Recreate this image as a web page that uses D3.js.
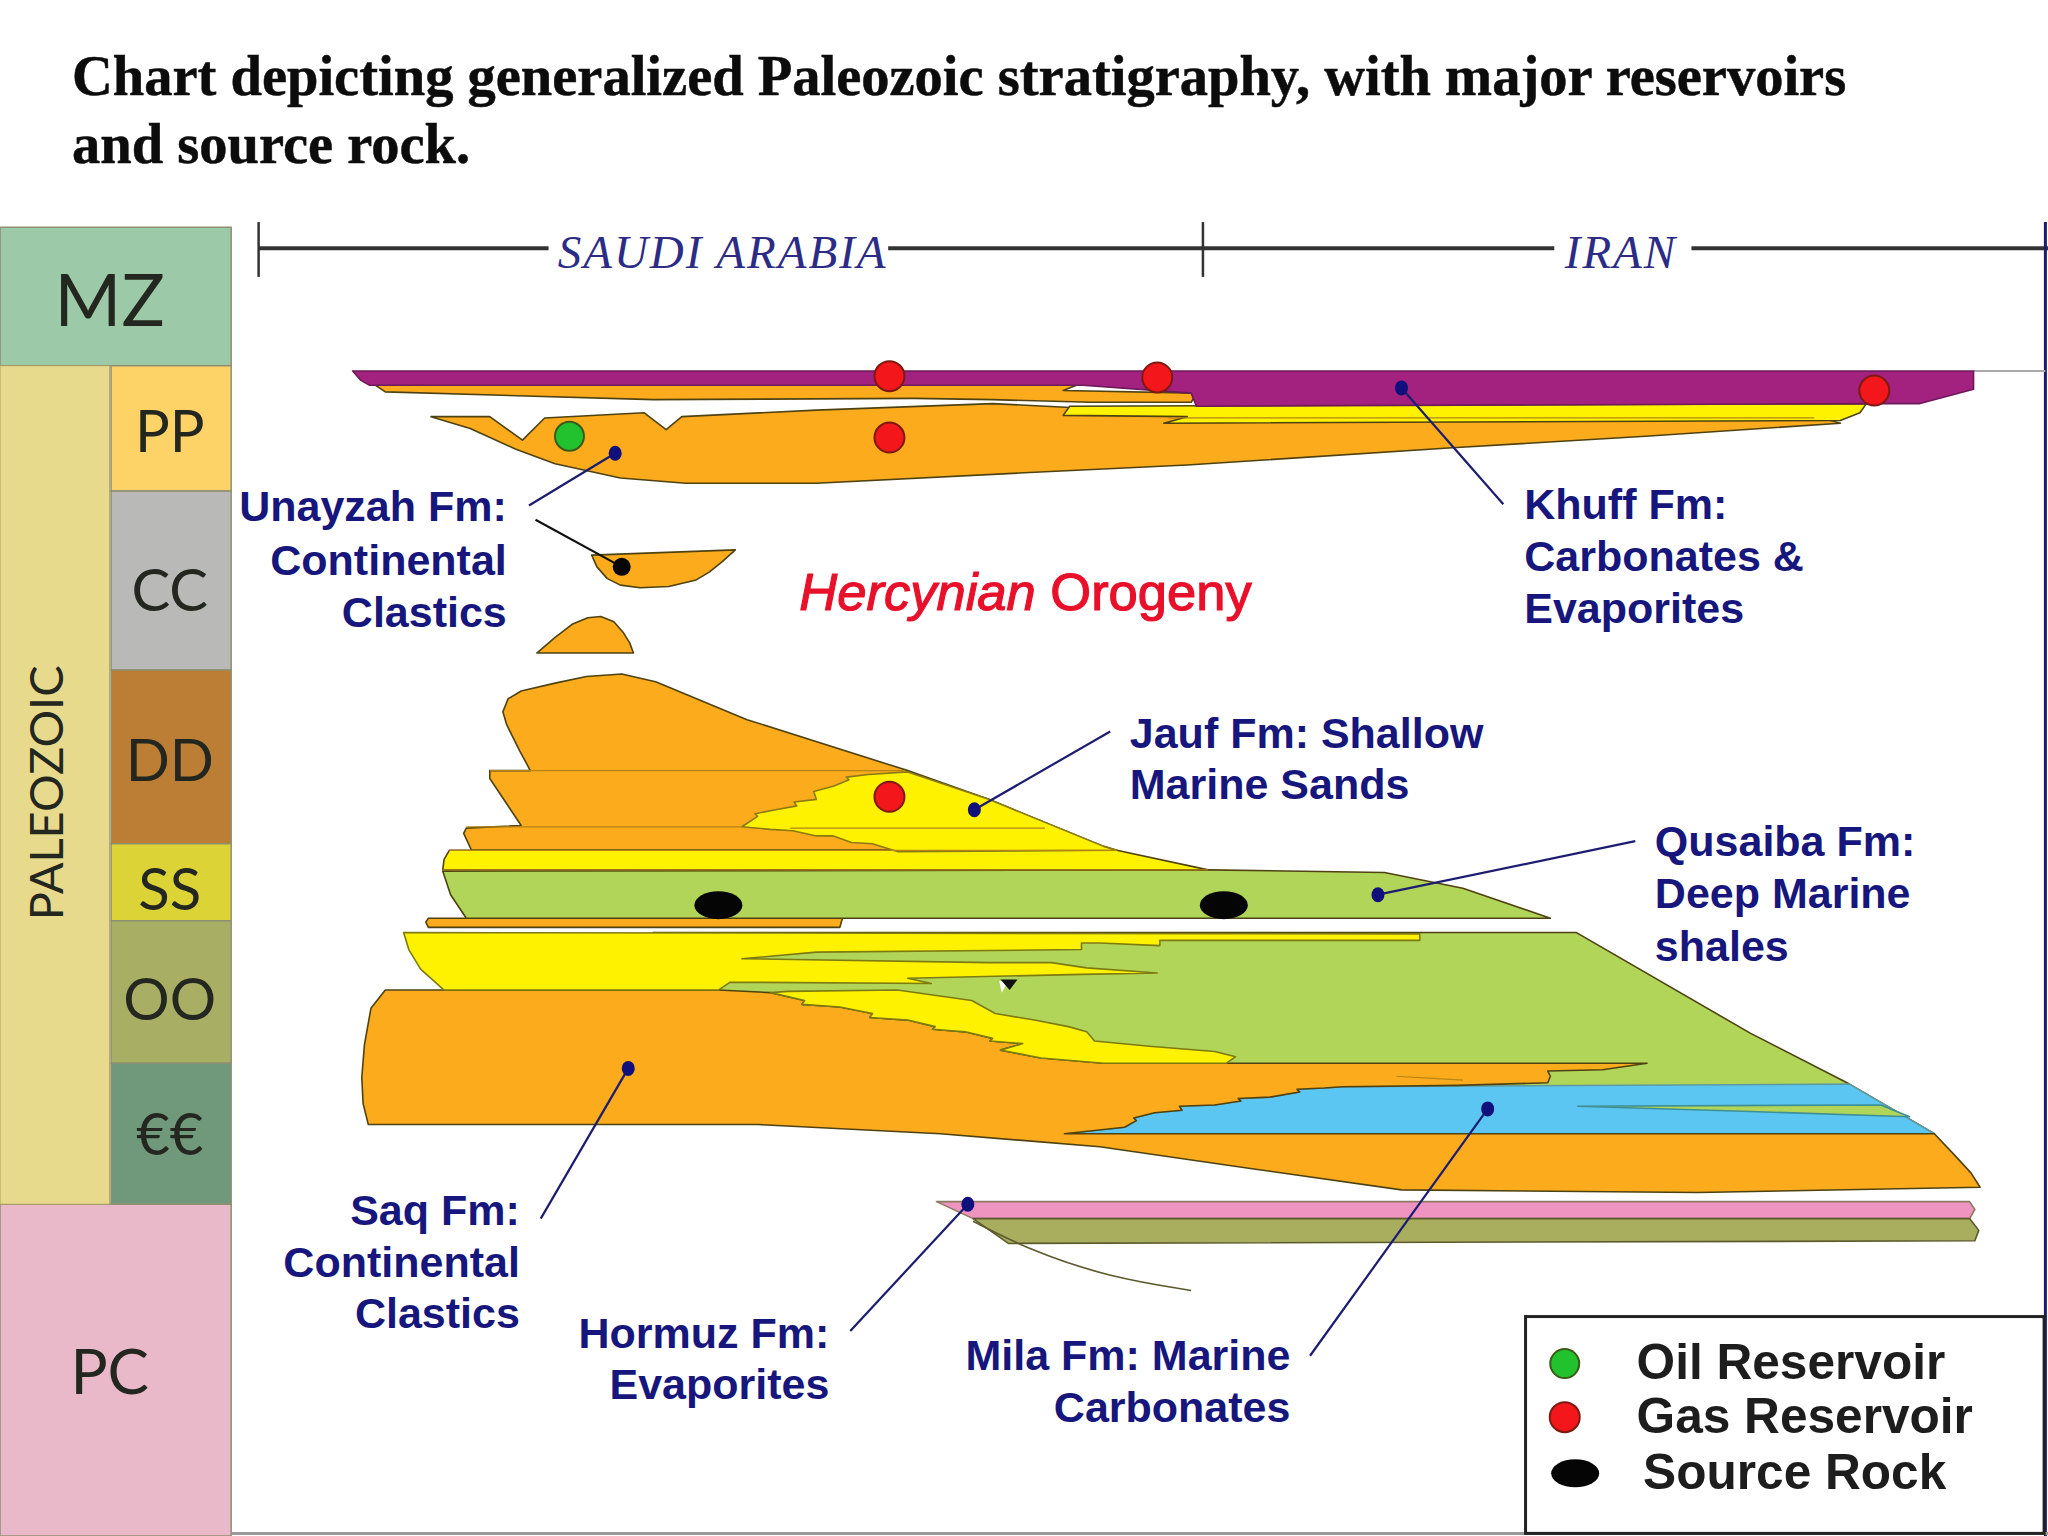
<!DOCTYPE html>
<html>
<head>
<meta charset="utf-8">
<script src="https://cdnjs.cloudflare.com/ajax/libs/d3/7.8.5/d3.min.js"></script>
<style>
  html, body { margin: 0; padding: 0; background: #fff; }
  svg { display: block; }
</style>
</head>
<body>
<div id="chart"></div>
<script>
// values, on a 1568 x 1176 sheet
const periods = ['MZ', 'PP', 'CC', 'DD', 'SS', 'OO', '€€', 'PC'];
const periodTops = [174, 280, 376, 513, 646, 705, 814, 922];
const periodBottoms = [280, 376, 513, 646, 705, 814, 922, 1176];
const periodLabelRows = [230, 330, 452, 582, 681, 765, 868, 1050];
const eraSpan = [280, 922];
const regions = ['SAUDI ARABIA', 'IRAN'];
const regionTicks = [198, 921, 1566];

// stepped contacts shared by two formations
const milaEdge = [[815, 868], [861, 863], [870, 858], [868, 856], [884, 852], [905, 850], [903, 847], [930, 846], [950, 843], [948, 841], [972, 840], [995, 836], [993, 834], [1014, 833], [1028, 832]];
const saqEdge = [[590, 760], [616, 766], [614, 769], [643, 771], [668, 776], [666, 779], [695, 781], [716, 786], [714, 788], [739, 790], [760, 795], [758, 797], [783, 799], [766, 804], [797, 810], [845, 814]];

// formations, oldest drawing order first
const ordovicianGreen = [[500, 714], [1207, 714], [1340, 791], [1416, 830], [1481, 868], [815, 868], [550, 758]];
const milaBlue = [...milaEdge, [1416, 830], [1481, 868]];
const milaGreenStreak = [[1208, 847], [1440, 846], [1462, 855], [1340, 851]];
const saqOrange = [[295, 758], [550, 758], ...saqEdge, [949, 814], [1261, 814], [1227, 819], [1185, 820], [1187, 824], [1185, 829], [1116, 831], ...milaEdge.slice().reverse(), [1481, 868], [1497, 885], [1509, 898], [1516, 909], [1300, 913], [1073, 911], [960, 895], [842, 878], [720, 868], [581, 861], [282, 861], [278, 845], [277, 825], [279, 800], [284, 772]];
const upperYellow = [[309, 714], [1087, 715], [1087, 720], [888, 720], [888, 724], [842, 722], [828, 722], [828, 727], [625, 729], [568, 734], [757, 737], [805, 737], [832, 741], [886, 745], [828, 746], [695, 749], [713, 753], [559, 752], [550, 758], [340, 758], [322, 742], [313, 727]];
const lowerYellow = [...saqEdge, [939, 814], [946, 809], [930, 805], [880, 801], [838, 797], [832, 790], [818, 786], [792, 781], [762, 776], [744, 766], [687, 758], [603, 759]];
const sandStrip = [[328, 703], [645, 703], [643, 710], [328, 710], [326, 706]];
const qusaibaGreen = [[339, 667], [925, 666], [1060, 668], [1120, 680], [1187, 703], [357, 703], [345, 685]];
const sarahYellow = [[344, 651], [855, 651], [925, 666], [339, 666], [340, 658]];
const jaufOrange = [[406, 590], [398, 575], [388, 555], [385, 545], [389, 535], [399, 529], [425, 523], [449, 518], [476, 516], [502, 522], [572, 551], [695, 590], [757, 612], [845, 648], [855, 651], [361, 651], [355, 638], [357, 634], [399, 632], [375, 596], [375, 590]];
const jaufYellow = [[695, 591], [757, 612], [845, 648], [855, 651], [687, 652], [668, 646], [652, 645], [638, 640], [625, 640], [607, 636], [590, 635], [568, 633], [580, 625], [578, 623], [594, 620], [610, 617], [608, 614], [625, 612], [623, 606], [638, 602], [650, 597], [648, 595], [665, 593]];
const moundOrange = [[411, 500], [425, 488], [438, 478], [450, 473], [460, 472], [470, 476], [477, 484], [482, 492], [485, 500]];
const bowlOrange = [[453, 425], [563, 421], [553, 430], [543, 438], [533, 444], [512, 449], [490, 450], [475, 448], [465, 443], [457, 434]];
const unayzahOrange = [[330, 319], [375, 319], [400, 337], [417, 320], [493, 316], [510, 329], [522, 319], [625, 314], [760, 309], [900, 316], [1395, 320], [1409, 324], [1260, 334], [1109, 343], [909, 356], [784, 362], [625, 370], [525, 370], [475, 366], [425, 355], [395, 344], [360, 328]];
const khuffYellow = [[819, 311], [1429, 309], [1424, 316], [1409, 322], [894, 324], [891, 324], [909, 319], [814, 318]];
const upperOrange = [[283, 292], [829, 293], [814, 299], [916, 301], [912, 308], [835, 308], [760, 306], [700, 305], [500, 306], [295, 300]];
const khuffPurple = [[270, 284], [1511, 284], [1511, 298], [1470, 309], [1430, 309], [916, 311], [912, 301], [829, 295], [283, 295], [276, 291]];
const hormuzPink = [[717, 920], [1508, 920], [1512, 926], [1508, 933], [745, 933]];
const hormuzOlive = [[745, 933], [1508, 933], [1515, 942], [1512, 950], [772, 952]];
const hormuzTail = [[745, 935], [790, 958], [850, 978], [912, 988]];

// faint bedding contacts inside the formations
const contacts = [
  [[375, 590], [692, 590]],
  [[357, 633], [568, 633]],
  [[344, 651], [855, 651]],
  [[339, 666], [925, 666]],
  [[605, 634], [800, 634]],
  [[894, 320], [1389, 320]],
  [[1069, 824], [1120, 827]]
];

const gasPoints = [[681, 288], [886, 289], [1435, 299], [681, 335], [681, 610]];
const oilPoints = [[436, 334]];
const sourcePoints = [[550, 693], [937, 693]];
const bowlSource = [476, 434];

const leaderDots = [[471, 347], [1073, 297], [746, 620], [1055, 685], [481, 818], [741, 922], [1139, 849]];
const leaderEnds = [[405, 387], [1151, 386], [850, 560], [1252, 644], [414, 933], [651, 1019], [1003, 1038]];

const titleLines = [
  'Chart depicting generalized Paleozoic stratigraphy, with major reservoirs',
  'and source rock.'
];
const unayzahLines = ['Unayzah Fm:', 'Continental', 'Clastics'];
const khuffLines = ['Khuff Fm:', 'Carbonates &', 'Evaporites'];
const jaufLines = ['Jauf Fm: Shallow', 'Marine Sands'];
const qusaibaLines = ['Qusaiba Fm:', 'Deep Marine', 'shales'];
const saqLines = ['Saq Fm:', 'Continental', 'Clastics'];
const hormuzLines = ['Hormuz Fm:', 'Evaporites'];
const milaLines = ['Mila Fm: Marine', 'Carbonates'];
const legendLabels = ['Oil Reservoir', 'Gas Reservoir', 'Source Rock'];

const width = 2048;
const height = 1536;
const x = d3.scaleLinear().domain([0, 1568]).range([0, width]);
const y = d3.scaleLinear().domain([0, 1176]).range([0, height]);

const periodColor = d3.scaleOrdinal()
  .domain(periods)
  .range(['#9ccaa8', '#fdd368', '#b9b9b7', '#bc7e35', '#dcd336', '#a9ae65', '#70997c', '#e9b9c9']);

const orange = '#fbab1c';
const yellow = '#fff200';
const green = '#b1d558';
const purple = '#a3217f';
const blue = '#5cc6f2';
const navy = '#16167c';
const edge = '#4e4212';

const svg = d3.select('#chart').append('svg')
  .attr('width', width)
  .attr('height', height)
  .style('background', '#fff');

// title
svg.append('g').selectAll('text')
  .data(titleLines)
  .enter().append('text')
  .attr('x', 72)
  .attr('y', (d, i) => 95 + i * 68)
  .attr('font-family', '"Liberation Serif", serif')
  .attr('font-weight', 'bold')
  .attr('font-size', 56.5)
  .attr('fill', '#0c0c0c')
  .attr('stroke', '#0c0c0c')
  .attr('stroke-width', 0.5)
  .text(d => d);

// stratigraphic column
const column = svg.append('g');
const fullWidth = ['MZ', 'PC'];
column.selectAll('rect.period')
  .data(periods)
  .enter().append('rect')
  .attr('class', 'period')
  .attr('x', d => x(fullWidth.includes(d) ? 0 : 85))
  .attr('y', (d, i) => y(periodTops[i]))
  .attr('width', d => x(177) - x(fullWidth.includes(d) ? 0 : 85))
  .attr('height', (d, i) => y(periodBottoms[i]) - y(periodTops[i]))
  .attr('fill', d => periodColor(d))
  .attr('stroke', '#8f8f72')
  .attr('stroke-width', 1.5);

column.append('rect')
  .attr('x', 0)
  .attr('y', y(eraSpan[0]))
  .attr('width', x(84))
  .attr('height', y(eraSpan[1]) - y(eraSpan[0]))
  .attr('fill', '#e8da8c')
  .attr('stroke', '#a89d63')
  .attr('stroke-width', 1);

column.selectAll('text.period')
  .data(periods)
  .enter().append('text')
  .attr('class', 'period')
  .attr('x', d => x(fullWidth.includes(d) ? 84 : 130))
  .attr('y', (d, i) => y(periodLabelRows[i]))
  .attr('dy', '0.36em')
  .attr('text-anchor', 'middle')
  .attr('font-family', 'Lato, sans-serif')
  .attr('font-size', d => (d === 'MZ' ? 72 : d === 'PC' ? 62 : 58))
  .attr('fill', '#23271f')
  .text(d => d);

column.append('text')
  .attr('transform', `translate(${x(35)},${y(607)}) rotate(-90)`)
  .attr('dy', '0.36em')
  .attr('text-anchor', 'middle')
  .attr('font-family', 'Lato, sans-serif')
  .attr('font-size', 47)
  .attr('fill', '#23271f')
  .text('PALEOZOIC');

// country header
const header = svg.append('g').attr('stroke', '#333').attr('stroke-width', 4);
const headerRuns = [[198, 420], [680, 1190], [1295, 1568]];
headerRuns.forEach(r => {
  header.append('line')
    .attr('x1', x(r[0])).attr('x2', x(r[1]))
    .attr('y1', y(190)).attr('y2', y(190));
});
regionTicks.slice(0, 2).forEach(t => {
  header.append('line')
    .attr('x1', x(t)).attr('x2', x(t))
    .attr('y1', y(170)).attr('y2', y(212))
    .attr('stroke-width', 2.5);
});
svg.selectAll('text.region')
  .data(regions)
  .enter().append('text')
  .attr('class', 'region')
  .attr('x', (d, i) => x([427, 1198][i]))
  .attr('y', y(205))
  .attr('font-family', '"Liberation Serif", serif')
  .attr('font-style', 'italic')
  .attr('font-size', 47)
  .attr('letter-spacing', 2)
  .attr('fill', '#2c2c86')
  .text(d => d);

// frame on the right and bottom, grey datum at the top of the Khuff
svg.append('line')
  .attr('x1', x(regionTicks[2])).attr('x2', x(regionTicks[2]))
  .attr('y1', y(170)).attr('y2', y(1176))
  .attr('stroke', '#1c1c6e').attr('stroke-width', 3);
svg.append('line')
  .attr('x1', x(177)).attr('x2', x(1568))
  .attr('y1', y(1174)).attr('y2', y(1174))
  .attr('stroke', '#999').attr('stroke-width', 3);
svg.append('line')
  .attr('x1', x(1511)).attr('x2', x(1566))
  .attr('y1', y(284)).attr('y2', y(284))
  .attr('stroke', '#aaa').attr('stroke-width', 2);

// formations
const outline = d3.line().x(d => x(d[0])).y(d => y(d[1])).curve(d3.curveLinearClosed);
const open = d3.line().x(d => x(d[0])).y(d => y(d[1])).curve(d3.curveBasis);

const formations = [
  [ordovicianGreen, green, edge],
  [milaBlue, blue, '#5f9aa0'],
  [milaGreenStreak, green, '#3f8f96'],
  [saqOrange, orange, edge],
  [upperYellow, yellow, '#7d7a12'],
  [lowerYellow, yellow, '#7d7a12'],
  [sandStrip, orange, edge],
  [qusaibaGreen, green, edge],
  [jaufOrange, orange, edge],
  [sarahYellow, yellow, edge],
  [jaufYellow, yellow, '#8a7a14'],
  [moundOrange, orange, edge],
  [bowlOrange, orange, edge],
  [unayzahOrange, orange, edge],
  [khuffYellow, yellow, edge],
  [upperOrange, orange, edge],
  [khuffPurple, purple, '#6c1a58'],
  [hormuzPink, '#ef93c1', '#8c7a60'],
  [hormuzOlive, '#a9ae5f', '#5c5a2c']
];
svg.append('g').selectAll('path')
  .data(formations)
  .enter().append('path')
  .attr('d', d => outline(d[0]))
  .attr('fill', d => d[1])
  .attr('stroke', d => d[2])
  .attr('stroke-width', 1.6)
  .attr('stroke-linejoin', 'round');

svg.append('path')
  .attr('d', open(hormuzTail))
  .attr('fill', 'none')
  .attr('stroke', '#5c5a2c')
  .attr('stroke-width', 1.6);

svg.append('g').selectAll('line')
  .data(contacts)
  .enter().append('line')
  .attr('x1', d => x(d[0][0])).attr('y1', d => y(d[0][1]))
  .attr('x2', d => x(d[1][0])).attr('y2', d => y(d[1][1]))
  .attr('stroke', '#b58414')
  .attr('stroke-width', 1.2);

// little white and black scrap inside the Ordovician green
const scrapWhite = [[765, 751], [772, 751], [767, 760]];
const scrapBlack = [[766, 750], [779, 750], [773, 758]];
svg.append('path').attr('d', outline(scrapWhite)).attr('fill', '#fff');
svg.append('path').attr('d', outline(scrapBlack)).attr('fill', '#111');

// reservoirs and source rock
function drawGas(g, pts) {
  g.selectAll('circle.gas')
    .data(pts)
    .enter().append('circle')
    .attr('class', 'gas')
    .attr('cx', d => x(d[0])).attr('cy', d => y(d[1]))
    .attr('r', 15)
    .attr('fill', '#f3161a')
    .attr('stroke', '#7c1a12')
    .attr('stroke-width', 2);
}
function drawOil(g, pts) {
  g.selectAll('circle.oil')
    .data(pts)
    .enter().append('circle')
    .attr('class', 'oil')
    .attr('cx', d => x(d[0])).attr('cy', d => y(d[1]))
    .attr('r', 14.5)
    .attr('fill', '#22c22e')
    .attr('stroke', '#3b5a18')
    .attr('stroke-width', 2);
}
function drawSource(g, pts) {
  g.selectAll('ellipse.source')
    .data(pts)
    .enter().append('ellipse')
    .attr('class', 'source')
    .attr('cx', d => x(d[0])).attr('cy', d => y(d[1]))
    .attr('rx', 24)
    .attr('ry', 14)
    .attr('fill', '#050505');
}
const marks = svg.append('g');
drawGas(marks, gasPoints);
drawOil(marks, oilPoints);
drawSource(marks, sourcePoints);

// leader lines
svg.append('g').selectAll('line')
  .data(leaderDots)
  .enter().append('line')
  .attr('x1', d => x(d[0])).attr('y1', d => y(d[1]))
  .attr('x2', (d, i) => x(leaderEnds[i][0])).attr('y2', (d, i) => y(leaderEnds[i][1]))
  .attr('stroke', '#1c1c70')
  .attr('stroke-width', 2.2);
svg.append('g').selectAll('ellipse')
  .data(leaderDots)
  .enter().append('ellipse')
  .attr('cx', d => x(d[0])).attr('cy', d => y(d[1]))
  .attr('rx', 6.5).attr('ry', 7.5)
  .attr('fill', '#10107c');

svg.append('line')
  .attr('x1', x(410)).attr('y1', y(398))
  .attr('x2', x(bowlSource[0])).attr('y2', y(bowlSource[1]))
  .attr('stroke', '#111').attr('stroke-width', 2.2);
svg.append('circle')
  .attr('cx', x(bowlSource[0])).attr('cy', y(bowlSource[1]))
  .attr('r', 9)
  .attr('fill', '#050505');

// formation labels
function drawLabel(lines, px, baselines, anchor) {
  svg.append('g').selectAll('text')
    .data(lines)
    .enter().append('text')
    .attr('x', x(px))
    .attr('y', (d, i) => y(baselines[i]))
    .attr('text-anchor', anchor)
    .attr('font-family', '"Liberation Sans", sans-serif')
    .attr('font-weight', 'bold')
    .attr('font-size', 43)
    .attr('fill', navy)
    .text(d => d);
}
drawLabel(unayzahLines, 388, [399, 440, 480], 'end');
drawLabel(khuffLines, 1167, [397, 437, 477], 'start');
drawLabel(jaufLines, 865, [573, 612], 'start');
drawLabel(qusaibaLines, 1267, [655, 695, 736], 'start');
drawLabel(saqLines, 398, [938, 978, 1017], 'end');
drawLabel(hormuzLines, 635, [1032, 1071], 'end');
drawLabel(milaLines, 988, [1049, 1089], 'end');

const orogeny = svg.append('text')
  .attr('x', x(612))
  .attr('y', y(467))
  .attr('font-family', '"Liberation Sans", sans-serif')
  .attr('font-size', 52.5)
  .attr('fill', '#e8102a')
  .attr('stroke', '#e8102a')
  .attr('stroke-width', 1.2);
orogeny.append('tspan').attr('font-style', 'italic').text('Hercynian');
orogeny.append('tspan').text(' Orogeny');

// legend
const legend = svg.append('g');
legend.append('rect')
  .attr('x', x(1168)).attr('y', y(1008))
  .attr('width', x(1565) - x(1168)).attr('height', y(1174) - y(1008))
  .attr('fill', '#fff')
  .attr('stroke', '#222')
  .attr('stroke-width', 3);
const legendRows = [1044, 1085, 1128];
drawOil(legend, [[1198, legendRows[0]]]);
drawGas(legend, [[1198, legendRows[1]]]);
drawSource(legend, [[1206, legendRows[2]]]);
legend.selectAll('text')
  .data(legendLabels)
  .enter().append('text')
  .attr('x', (d, i) => x(i === 2 ? 1258 : 1253))
  .attr('y', (d, i) => y(legendRows[i] + 12))
  .attr('font-family', '"Liberation Sans", sans-serif')
  .attr('font-weight', 'bold')
  .attr('font-size', 49.6)
  .attr('fill', '#1d1d1d')
  .text(d => d);
</script>
</body>
</html>
